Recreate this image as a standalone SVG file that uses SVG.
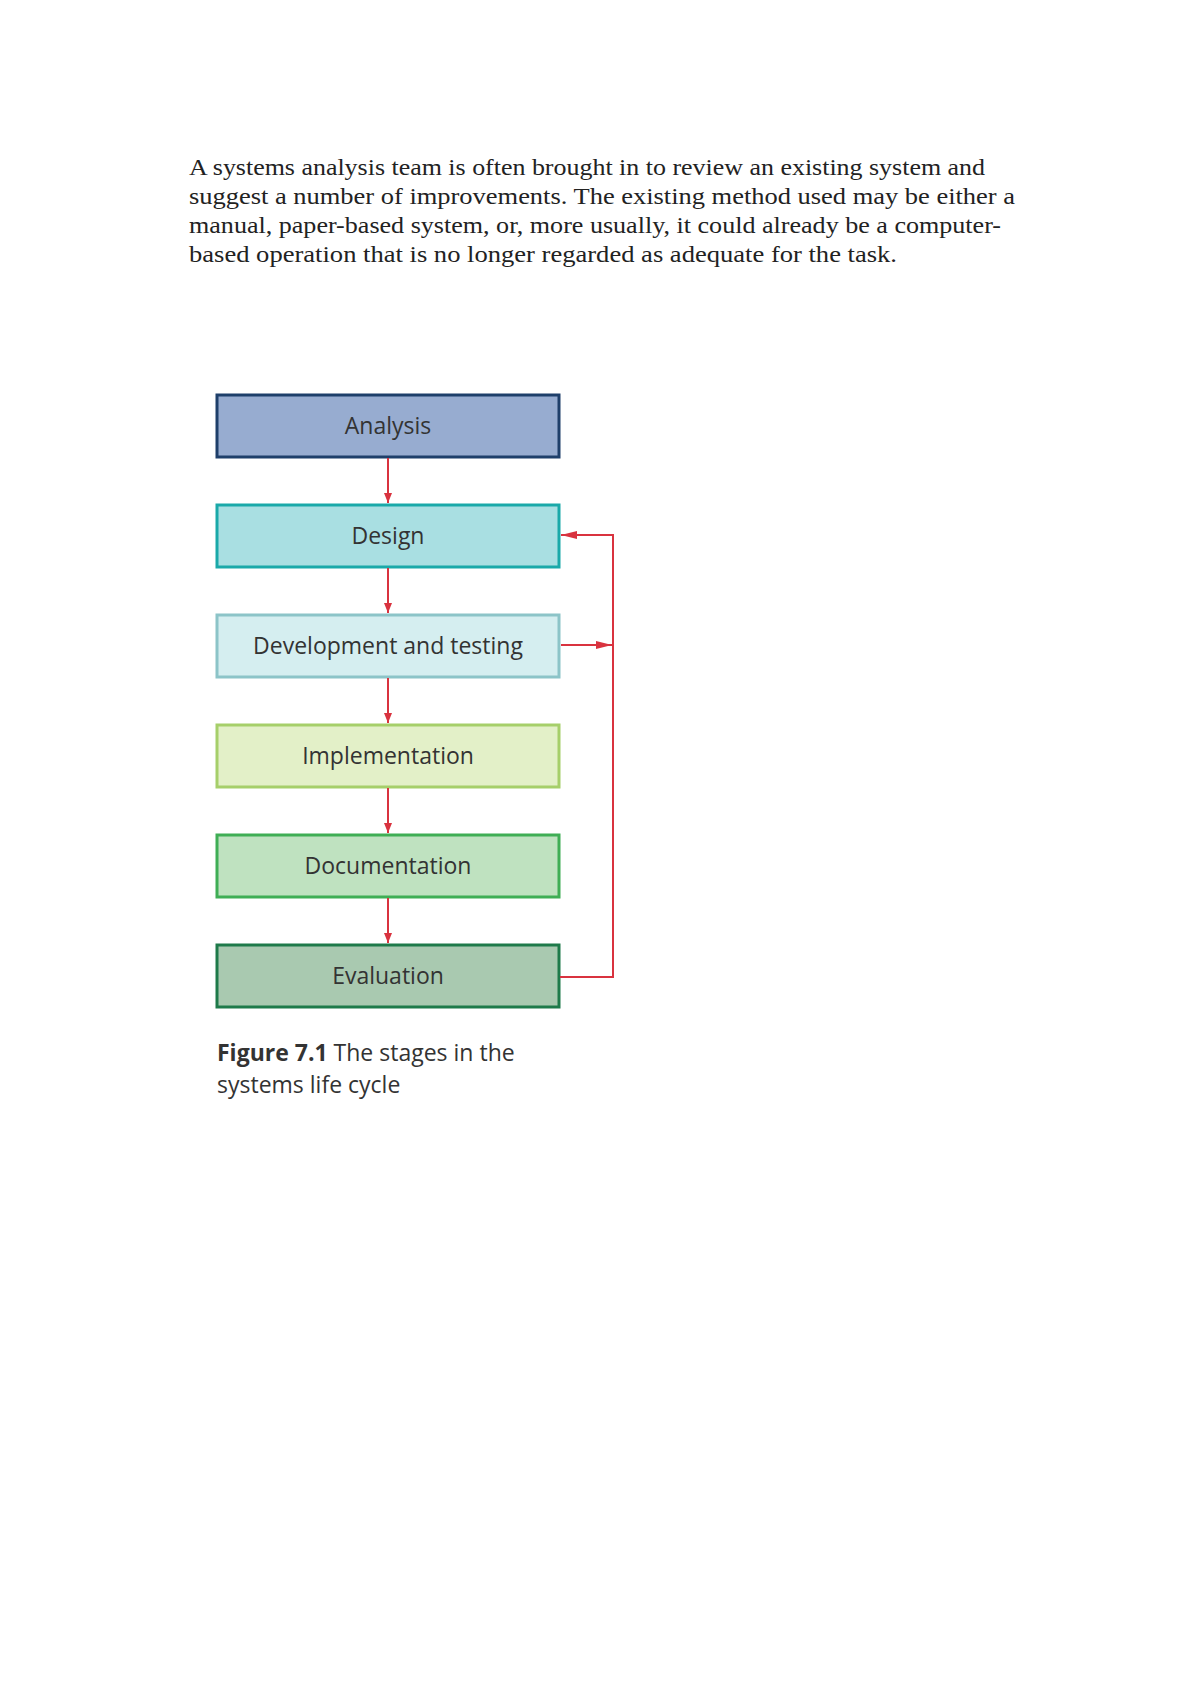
<svg xmlns="http://www.w3.org/2000/svg" width="1200" height="1696" viewBox="0 0 1200 1696">
<style>
.p{font-family:"Liberation Serif",serif;font-size:24px;fill:#222}
.n{font-family:"Open Sans","Noto Sans",sans-serif;font-size:23px;fill:#333;text-anchor:middle}
.c{font-family:"Open Sans","Noto Sans",sans-serif;font-size:23px;fill:#333}
rect{stroke-width:3}
.e{stroke:#d9333f;stroke-width:2;fill:none}
</style>
<defs><marker id="a" markerWidth="10" markerHeight="8" refX="10" refY="4" orient="auto" markerUnits="userSpaceOnUse"><path d="M0,0L10,4L0,8z" fill="#d9333f"/></marker>
<marker id="b" markerWidth="16" markerHeight="8" refX="16" refY="4" orient="auto" markerUnits="userSpaceOnUse"><path d="M0,0L16,4L0,8z" fill="#d9333f"/></marker></defs>
<rect width="1200" height="1696" fill="#fff" style="stroke:none"/>
<g id="para" class="p">
<text x="189" y="175" textLength="796" lengthAdjust="spacingAndGlyphs">A systems analysis team is often brought in to review an existing system and</text>
<text x="189" y="204" textLength="826" lengthAdjust="spacingAndGlyphs">suggest a number of improvements. The existing method used may be either a</text>
<text x="189" y="233" textLength="812" lengthAdjust="spacingAndGlyphs">manual, paper-based system, or, more usually, it could already be a computer-</text>
<text x="189" y="262" textLength="708" lengthAdjust="spacingAndGlyphs">based operation that is no longer regarded as adequate for the task.</text>
</g>
<g id="analysis"><rect x="217" y="395" width="342" height="62" fill="#97acd0" stroke="#1e3f6a"/><text class="n" x="388" y="434">Analysis</text></g>
<g id="design"><rect x="217" y="505" width="342" height="62" fill="#a9dfe2" stroke="#1aa9a9"/><text class="n" x="388" y="544">Design</text></g>
<g id="dev"><rect x="217" y="615" width="342" height="62" fill="#d5eef0" stroke="#8cc4c8"/><text class="n" x="388" y="654">Development and testing</text></g>
<g id="impl"><rect x="217" y="725" width="342" height="62" fill="#e3f0c8" stroke="#a6cf6a"/><text class="n" x="388" y="764">Implementation</text></g>
<g id="doc"><rect x="217" y="835" width="342" height="62" fill="#bfe2c0" stroke="#3fae55"/><text class="n" x="388" y="874">Documentation</text></g>
<g id="eval"><rect x="217" y="945" width="342" height="62" fill="#a9c9b0" stroke="#1e7a4a"/><text class="n" x="388" y="984">Evaluation</text></g>
<g id="connectors">
<line class="e" x1="388" y1="458" x2="388" y2="503" marker-end="url(#a)"/>
<line class="e" x1="388" y1="568" x2="388" y2="613" marker-end="url(#a)"/>
<line class="e" x1="388" y1="678" x2="388" y2="723" marker-end="url(#a)"/>
<line class="e" x1="388" y1="788" x2="388" y2="833" marker-end="url(#a)"/>
<line class="e" x1="388" y1="898" x2="388" y2="943" marker-end="url(#a)"/>
<polyline class="e" points="560,977 613,977 613,535 561,535" marker-end="url(#b)"/>
<line class="e" x1="561" y1="645" x2="612" y2="645" marker-end="url(#b)"/>
</g>
<g id="caption" class="c">
<text x="217" y="1061"><tspan font-weight="bold">Figure 7.1</tspan> The stages in the</text>
<text x="217" y="1093">systems life cycle</text>
</g>
</svg>
